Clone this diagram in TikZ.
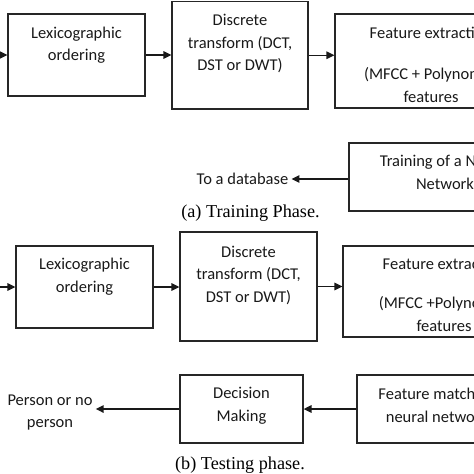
\documentclass[tikz,border=0pt]{standalone}
\usepackage{fontspec}
\setmainfont{Carlito}
\newfontfamily\capfont{Liberation Serif}
\usetikzlibrary{arrows.meta}
\tikzset{
  box/.style={draw=black!85, line width=1.3pt, inner sep=0pt},
  lbl/.style={align=center, inner sep=0pt, text=black!90, font=\fontsize{16.5}{22.5}\selectfont},
  outtxt/.style={align=center, inner sep=3pt, text=black!90, font=\fontsize{16.5}{22.5}\selectfont},
  capt/.style={inner sep=0pt, font=\capfont\fontsize{18.2}{22}\selectfont},
  arr/.style={line width=1.5pt, draw=black!90, -{Triangle[length=8pt,width=7.5pt]}}
}
\begin{document}
\begin{tikzpicture}[x=1pt,y=-1pt]
\useasboundingbox (0,0) rectangle (474,474);
\clip (0,0) rectangle (474,474);
% ---------- (a) training phase ----------
\node[box, minimum width=137pt, minimum height=82pt] (lexA) at (76.5,55) {};
\node[lbl] (lexAt) at (76.5,45) {Lexicographic\\ordering};
\node[box, minimum width=136pt, minimum height=107.5pt] (dctA) at (240,55.25) {};
\node[lbl] (dctAt) at (240,43.5) {Discrete\\transform (DCT,\\DST or DWT)};
\node[box, minimum width=192pt, minimum height=94pt] (featA) at (431,61) {};
\node[lbl] (featAt) at (431,65) {Feature extraction\\[18.5pt](MFCC + Polynomial\\features};
\node[box, minimum width=192pt, minimum height=68pt] (trainA) at (445,177) {};
\node[lbl] (trainAt) at (445,172.5) {Training of a Neural\\Network};
\node[outtxt] (dbA) at (242.5,179) {To a database};
\node[capt] (capA) at (250.5,213) {(a) Training Phase.};
\coordinate (inA) at (0,55);
\draw[arr] (inA) -- (lexA.west);
\draw[arr] (lexA.east) -- (lexA.east -| dctA.west);
\draw[arr] (dctA.east) -- (dctA.east -| featA.west);
\draw[arr] (trainA.west |- dbA.east) -- (dbA.east);
% ---------- (b) testing phase ----------
\node[box, minimum width=137pt, minimum height=82pt] (lexB) at (84.5,287) {};
\node[lbl] (lexBt) at (84.5,276.5) {Lexicographic\\ordering};
\node[box, minimum width=137pt, minimum height=109pt] (dctB) at (248.5,286.5) {};
\node[lbl] (dctBt) at (248.5,275) {Discrete\\transform (DCT,\\DST or DWT)};
\node[box, minimum width=202pt, minimum height=91pt] (featB) at (444,291.5) {};
\node[lbl] (featBt) at (444,295) {Feature extraction\\[16.5pt](MFCC +Polynomial\\features};
\node[box, minimum width=160pt, minimum height=68pt] (fmB) at (437,409) {};
\node[lbl] (fmBt) at (437,405.5) {Feature matching\\neural network};
\node[box, minimum width=123pt, minimum height=68pt] (decB) at (241.5,409) {};
\node[lbl] (decBt) at (241.5,405.5) {Decision\\Making};
\node[outtxt] (perB) at (50,412.5) {Person or no\\person};
\node[capt] (capB) at (240,465) {(b) Testing phase.};
\coordinate (inB) at (0,287);
\draw[arr] (inB) -- (lexB.west);
\draw[arr] (lexB.east) -- (lexB.east -| dctB.west);
\draw[arr] (dctB.east) -- (dctB.east -| featB.west);
\draw[arr] (fmB.west) -- (decB.east);
\draw[arr] (decB.west) -- (decB.west -| perB.east);
\end{tikzpicture}
\end{document}
